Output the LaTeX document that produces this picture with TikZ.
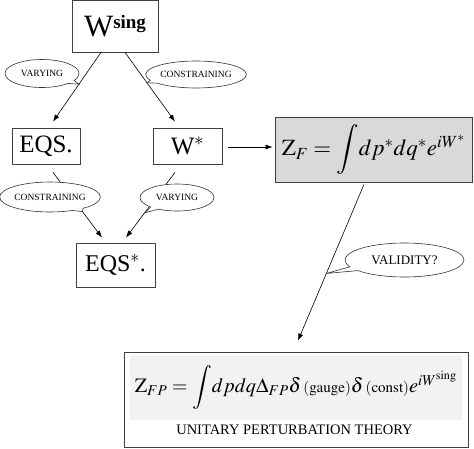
\documentclass[tikz,border=0pt]{standalone}
\usepackage{mathptmx}
\usepackage{fontspec}
\setmainfont{Liberation Serif}
\usetikzlibrary{shapes.callouts,arrows.meta}
\newcommand{\bigint}[1]{\mbox{\fontsize{#1}{#1}\selectfont$\displaystyle\int$}}
\begin{document}
\begin{tikzpicture}[x=1pt,y=-1pt,
  box/.style={draw=black!75,line width=0.8pt,inner sep=0pt},
  arr/.style={-{Latex[length=7pt,width=5pt]},line width=0.6pt},
  bubble/.style={ellipse callout,draw=black!80,fill=white,line width=0.6pt,inner sep=0pt,font=\fontsize{9.5}{11}\selectfont}]
\useasboundingbox (0,0) rectangle (474,448);
\node[box,minimum width=86pt,minimum height=52pt] (wsing) at (115,26) {\fontsize{31}{32}\selectfont W\raisebox{8pt}{\fontsize{19}{20}\selectfont\bfseries sing}};
\node[box,minimum width=68pt,minimum height=36pt] (eqs) at (46,146) {\fontsize{25}{28}\selectfont EQS.};
\node[box,minimum width=69pt,minimum height=36pt] (wstar) at (187.5,146) {\fontsize{25}{28}\selectfont W$^{*}$};
\node[box,fill=gray!30,minimum width=197pt,minimum height=65pt] (zf) at (373.5,149.5) {\fontsize{23}{25}\selectfont $\mathrm{Z}_F=\bigint{25}dp^{*}dq^{*}e^{iW^{*}}$};
\node[box,minimum width=79pt,minimum height=44pt] (eqsstar) at (115.5,265) {\fontsize{24}{26}\selectfont EQS$^{*}$.};
\node[box,minimum width=344pt,minimum height=95pt] (zfp) at (296,399.5) {};
\node[fill=gray!10,minimum width=332pt,minimum height=65pt,text height=14pt,text depth=4pt,inner sep=0pt] (zfpf) at (296,387.5) {\fontsize{20.3}{22}\selectfont $\mathrm{Z}_{FP}=\bigint{22}dpdq\Delta_{FP}\delta\,{\scriptstyle(\mathrm{gauge})}\delta\,{\scriptstyle(\mathrm{const})}e^{iW^{\mathrm{sing}}}$};
\node (upt) at (294.5,430) {\fontsize{14.5}{16}\selectfont UNITARY PERTURBATION THEORY};
\draw[arr] ([xshift=-14pt]wsing.south) -- ([xshift=7pt,yshift=6pt]eqs.north) coordinate[pos=0.46] (p1);
\draw[arr] ([xshift=10pt]wsing.south) -- ([xshift=-12.5pt,yshift=6pt]wstar.north) coordinate[pos=0.44] (p2);
\draw[arr] ([xshift=7pt,yshift=-8pt]eqs.south) -- ([xshift=-13.5pt,yshift=5pt]eqsstar.north) coordinate[pos=0.6] (p3);
\draw[arr] ([xshift=-12.5pt,yshift=-8pt]wstar.south) -- ([xshift=10.5pt,yshift=5pt]eqsstar.north) coordinate[pos=0.62] (p4);
\draw[arr,shorten >=2pt] ([xshift=6pt,yshift=-1pt]wstar.east) -- ([yshift=-1pt]wstar.east -| zf.west);
\draw[arr] ([xshift=-9.5pt,yshift=-2pt]zf.south) -- ([xshift=2pt,yshift=11pt]zfp.north) coordinate[pos=0.57] (p5);
\node[bubble,minimum width=74pt,minimum height=28pt,callout absolute pointer={(p1)}] (c1) at (42,73.5) {VARYING};
\node[bubble,minimum width=92pt,minimum height=27pt,callout absolute pointer={(p2)}] (c2) at (196,74.5) {CONSTRAINING};
\node[bubble,minimum width=100pt,minimum height=30pt,callout absolute pointer={(p3)}] (c3) at (50,197) {CONSTRAINING};
\node[bubble,minimum width=74pt,minimum height=27pt,callout absolute pointer={(p4)}] (c4) at (177,197.5) {VARYING};
\node[bubble,minimum width=119pt,minimum height=34pt,font=\fontsize{13}{15}\selectfont,callout absolute pointer={(p5)}] (c5) at (404.5,260) {VALIDITY?};
\end{tikzpicture}
\end{document}
